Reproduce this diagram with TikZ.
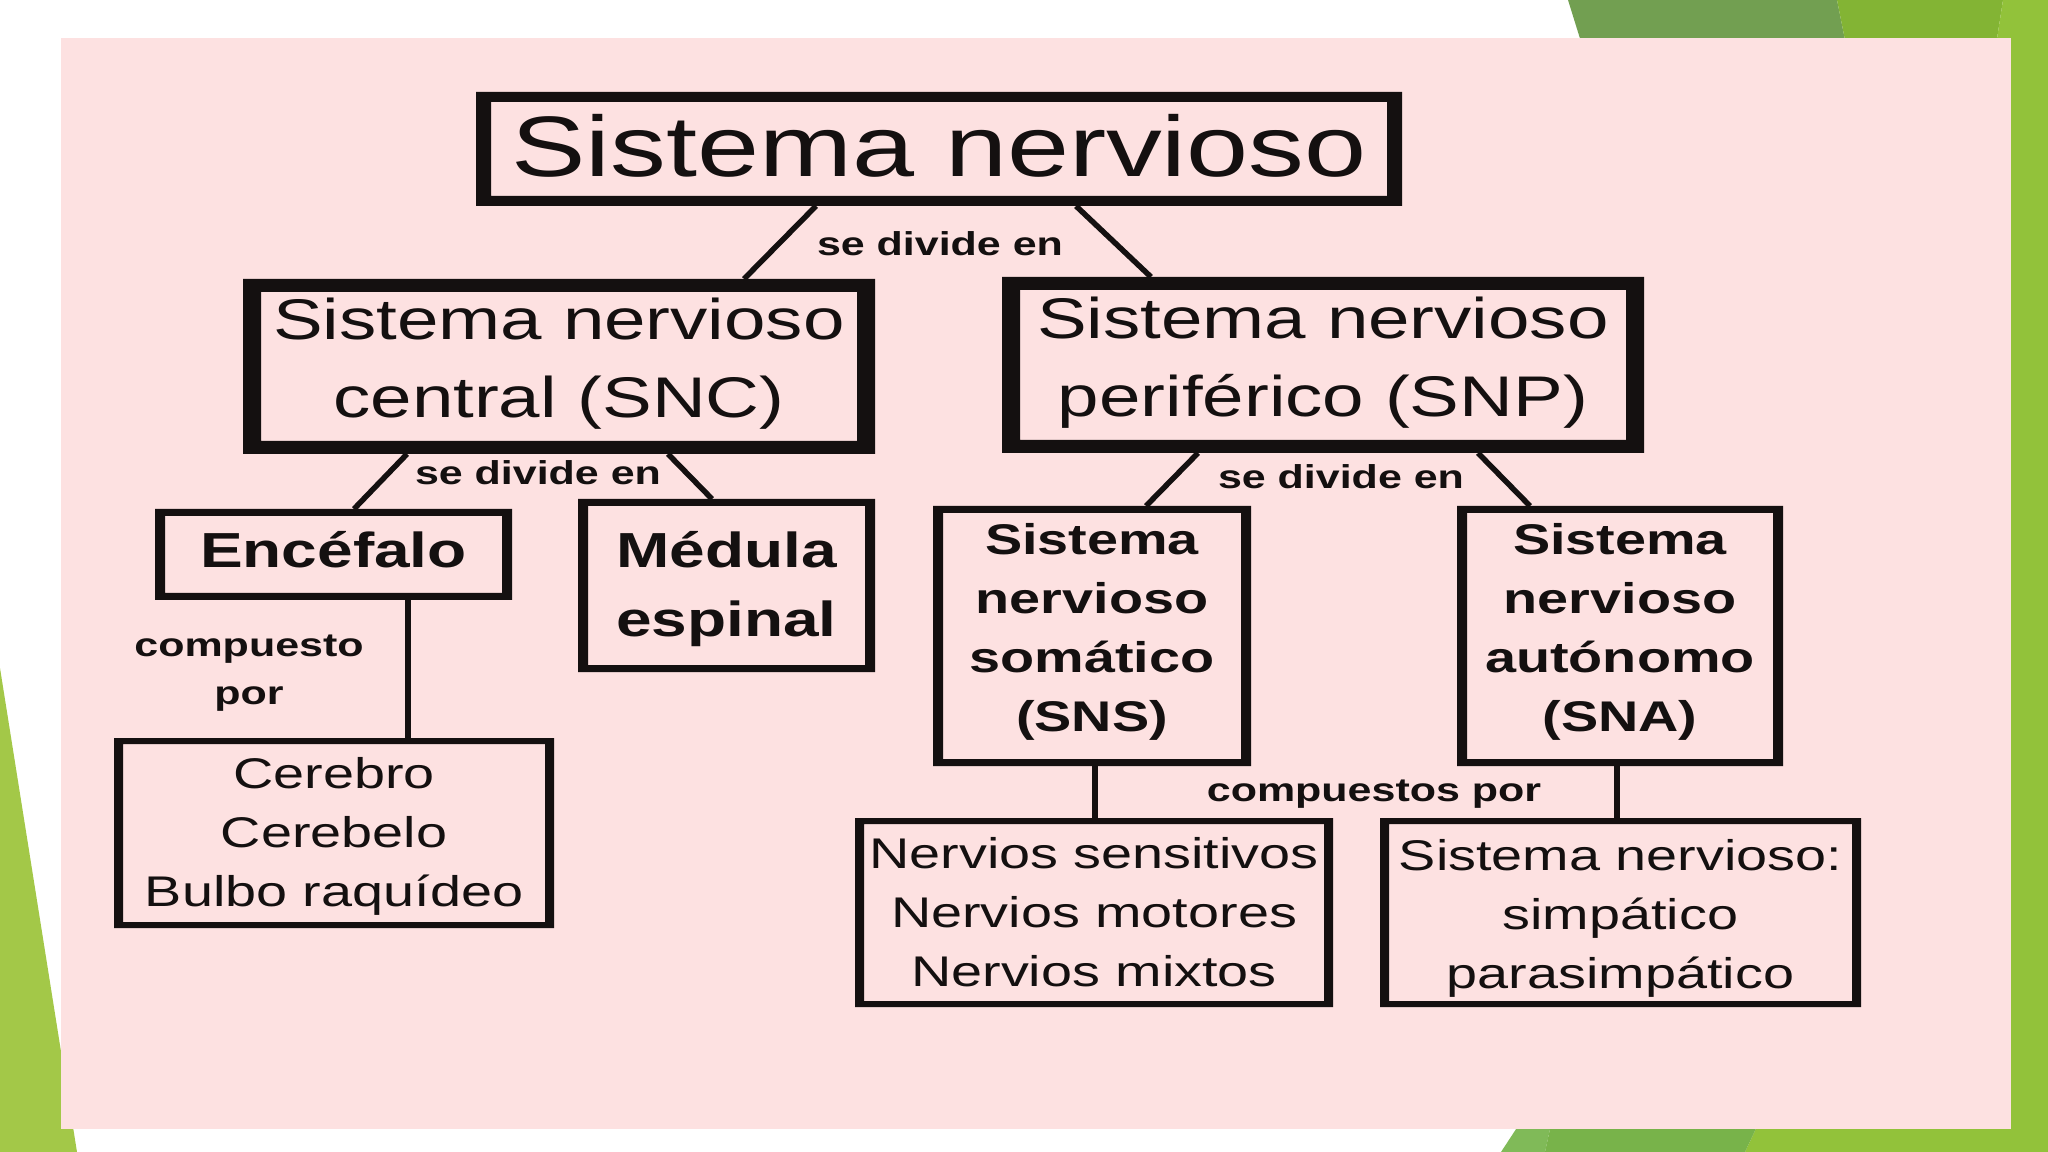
\documentclass[tikz,border=0pt]{standalone}
\usepackage{fontspec}
\setmainfont{Liberation Sans}[FakeStretch=1.3]
\definecolor{pinkbg}{RGB}{253,225,225}
\definecolor{gdark}{RGB}{114,159,81}
\definecolor{gmid}{RGB}{131,180,52}
\definecolor{gbright}{RGB}{146,194,58}
\definecolor{gleft}{RGB}{163,200,72}
\definecolor{gbotA}{RGB}{128,186,88}
\definecolor{gbotB}{RGB}{120,179,74}
\definecolor{ink}{RGB}{20,16,16}
\tikzset{
  boxline/.style={fill=ink},
  conn/.style={draw=ink, line width=0.055cm},
  lbl/.style={text=ink, inner sep=0pt, font=\bfseries\fontsize{9.4}{13.7}\selectfont, align=center},
  boxtext/.style={text=ink, inner sep=0pt, align=center},
  fTitle/.style={font=\fontsize{24.4}{29}\selectfont},
  fLtwo/.style={font=\fontsize{16.3}{22.2}\selectfont},
  fBigBold/.style={font=\bfseries\fontsize{14}{19.6}\selectfont},
  fBold/.style={font=\bfseries\fontsize{12.2}{16.8}\selectfont},
  fLeaf/.style={font=\fontsize{12.2}{16.8}\selectfont},
}
% name, x1, y1, x2, y2, horizontal-border, vertical-border, text dy, text style (with node contents)
\newcommand\mybox[9]{%
  \node[inner sep=0pt, outer sep=0pt, minimum width={(#4-#2)*0.01cm}, minimum height={(#5-#3)*0.01cm}]
    (#1) at ({(#2+#4)/2},{(#3+#5)/2}) {};
  \fill[boxline, even odd rule] (#1.north west) rectangle (#1.south east)
    ([shift={(#7,#6)}]#1.north west) rectangle ([shift={(-#7,-#6)}]#1.south east);
  \node[boxtext, name=#1-t, at={({(#2+#4)/2},{(#3+#5)/2+#8})}, #9];
}
\begin{document}
\begin{tikzpicture}[x=0.01cm,y=-0.01cm]
\useasboundingbox (0,0) rectangle (2048,1152);
\fill[white] (0,0) rectangle (2048,1152);
% decorative green shapes
\fill[gdark] (1568,0) -- (1837,0) -- (1846,45) -- (1582,45) -- cycle;
\fill[gmid] (1837,0) -- (2003,0) -- (1996,45) -- (1846,45) -- cycle;
\fill[gbright] (2003,0) -- (2048,0) -- (2048,1152) -- (1745,1152) -- (1760,1120) -- (1996,1120) -- (1996,45) -- cycle;
\fill[gleft] (0,668) -- (77,1152) -- (0,1152) -- cycle;
\fill[gbotA] (1501,1152) -- (1522,1120) -- (1552,1120) -- (1545,1152) -- cycle;
\fill[gbotB] (1545,1152) -- (1552,1120) -- (1760,1120) -- (1745,1152) -- cycle;
% pink panel
\fill[pinkbg] (61,38) rectangle (2011,1129);
% boxes
\mybox{title}{476}{92}{1402}{206}{10}{15}{-3}{fTitle, node contents={Sistema nervioso}}
\mybox{snc}{243}{279}{875}{454}{13}{18}{-3}{fLtwo, node contents={Sistema nervioso\\central (SNC)}}
\mybox{snp}{1002}{277}{1644}{453}{13}{18}{-2}{fLtwo, node contents={Sistema nervioso\\periférico (SNP)}}
\mybox{enc}{155}{509}{512}{600}{7}{10}{-5}{fBigBold, node contents={Encéfalo}}
\mybox{med}{578}{499}{875}{672}{7}{10}{4}{fBigBold, node contents={Médula\\espinal}}
\mybox{sns}{933}{506}{1251}{766}{7}{10}{-4}{fBold, node contents={Sistema\\nervioso\\somático\\(SNS)}}
\mybox{sna}{1457}{506}{1783}{766}{7}{10}{-4}{fBold, node contents={Sistema\\nervioso\\autónomo\\(SNA)}}
\mybox{cer}{114}{738}{554}{928}{6}{9}{3}{fLeaf, node contents={Cerebro\\Cerebelo\\Bulbo raquídeo}}
\mybox{ner}{855}{818}{1333}{1007}{6}{9}{0}{fLeaf, node contents={Nervios sensitivos\\Nervios motores\\Nervios mixtos}}
\mybox{sim}{1380}{818}{1861}{1007}{6}{9}{6}{fLeaf, node contents={Sistema nervioso:\\simpático\\parasimpático}}
% labels
\node[lbl] (d1) at (940,244) {se divide en};
\node[lbl] (d2) at (538,473) {se divide en};
\node[lbl] (d3) at (1341,477) {se divide en};
\node[lbl] (c1) at (249,673) {compuesto\\por};
\node[lbl] (c2) at (1374,794) {compuestos por};
% connectors
\draw[conn] (title.south -| 816,0) -- (snc.north -| 744,0);
\draw[conn] (title.south -| 1076,0) -- (snp.north -| 1151,0);
\draw[conn] (snc.south -| 407,0) -- (enc.north -| 354,0);
\draw[conn] (snc.south -| 668,0) -- (med.north -| 712,0);
\draw[conn] (snp.south -| 1198,0) -- (sns.north -| 1146,0);
\draw[conn] (snp.south -| 1478,0) -- (sna.north -| 1530,0);
\draw[conn] (enc.south -| 408,0) -- (cer.north -| 408,0);
\draw[conn] (sns.south -| 1095,0) -- (ner.north -| 1095,0);
\draw[conn] (sna.south -| 1617,0) -- (sim.north -| 1617,0);
\end{tikzpicture}
\end{document}
